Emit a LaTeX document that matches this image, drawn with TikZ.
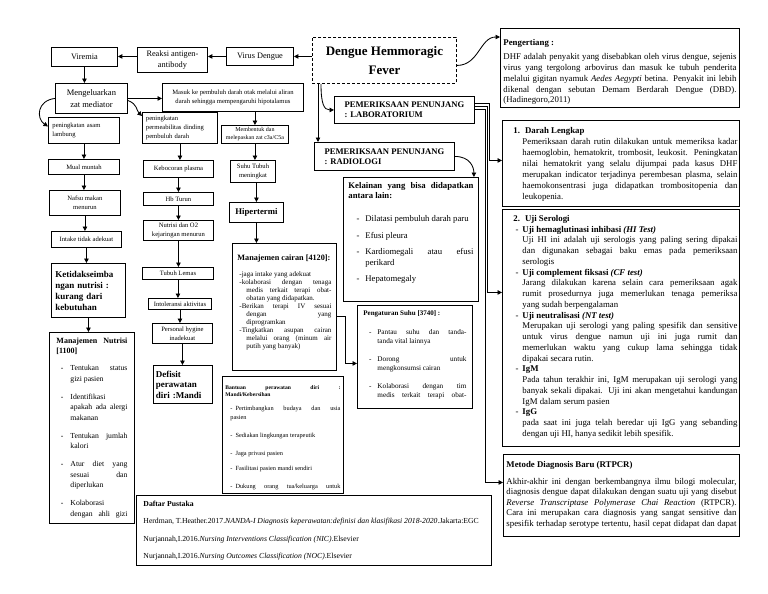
\documentclass[tikz,border=0pt]{standalone}
\usepackage{fontspec}
\setmainfont{Liberation Serif}
\usetikzlibrary{arrows.meta,calc}
\newcommand{\fs}[2]{\fontsize{#1}{#2}\selectfont}
\newcommand{\mypb}[3]{\parbox[t][#2][t]{#1}{#3}}
\newcommand{\itd}[1]{\leavevmode\llap{-\hspace{#1}}}
\newcommand{\bdash}{\leavevmode-\hspace{3pt}}
\hyphenpenalty=10000
\tolerance=9999
\hbadness=10000
\begin{document}
\begin{tikzpicture}[x=1pt,y=-1pt,
  bx/.style={draw, line width=0.9pt, anchor=north west, inner sep=1pt, align=center},
  smalltxt/.style={font=\fs{6.6}{8.8}},
  arr/.style={line width=0.85pt, -{Triangle[length=4.5pt,width=4.5pt]}}]
\useasboundingbox (0,0) rectangle (768,594);

% ---------- top row ----------
\node[bx, dash pattern=on 3pt off 2pt, minimum width=144pt, minimum height=46pt, font=\fs{13}{19.5}\bfseries] (dhf) at (312,37) {Dengue Hemmoragic\\Fever};
\node[bx, minimum width=67pt, minimum height=18pt, font=\fs{8.3}{11}] (virus) at (226,47) {Virus Dengue};
\node[bx, minimum width=70pt, minimum height=25pt, font=\fs{8.3}{11}] (reaksi) at (137,47) {Reaksi antigen-\\antibody};
\node[bx, minimum width=66pt, minimum height=19pt, font=\fs{8.3}{11}] (viremia) at (51,47) {Viremia};
\node[bx, minimum width=72pt, minimum height=30pt, font=\fs{8.5}{12}] (mediator) at (55,83) {Mengeluarkan\\zat mediator};
\node[bx, smalltxt, minimum width=141pt, minimum height=28pt] (masuk) at (162,83) {Masuk ke pembuluh darah otak melalui aliran\\darah sehingga mempengaruhi hipotalamus};

% ---------- left column ----------
\node[bx, smalltxt, align=left, minimum width=71pt, minimum height=26pt, text width=63pt] (asam) at (48,117) {peningkatan asam\\lambung};
\node[bx, smalltxt, minimum width=71pt, minimum height=15pt] (mual) at (48,159) {Mual muntah};
\node[bx, smalltxt, minimum width=71pt, minimum height=25pt] (nafsu) at (49,190) {Nafsu makan\\menurun};
\node[bx, smalltxt, minimum width=70pt, minimum height=16pt] (intake) at (51,231) {Intake tidak adekuat};
\node[bx, align=left, minimum width=74pt, minimum height=54pt, font=\fs{9}{11}\bfseries, text width=66pt] (ketidak) at (51,263) {Ketidakseimba\\ngan nutrisi :\\kurang dari\\kebutuhan};
\node[bx, inner xsep=7pt, inner ysep=2pt] (nutrisi) at (49,332) {\mypb{71pt}{187pt}{\fs{7.7}{10.5}%
\rule{0pt}{9pt}\textbf{\fs{8}{10.5}Manajemen Nutrisi [1100]}\par
\vspace{6.5pt}
{\leftskip=14pt
\itd{7pt}Tentukan status gizi pasien\par\vspace{7.5pt}
\itd{7pt}Identifikasi apakah ada alergi makanan\par\vspace{7.5pt}
\itd{7pt}Tentukan jumlah kalori\par\vspace{7.5pt}
\itd{7pt}Atur diet yang sesuai dan diperlukan\par\vspace{7.5pt}
{\parfillskip=0pt \itd{7pt}Kolaborasi dengan ahli gizi\par}}}};

% ---------- middle column ----------
\node[bx, smalltxt, align=left, minimum width=75pt, minimum height=31pt, text width=68pt] (permea) at (142,112) {peningkatan\\permeabilitas dinding\\pembuluh darah};
\node[bx, smalltxt, minimum width=70pt, minimum height=17pt] (bocor) at (143,160) {Kebocoran plasma};
\node[bx, smalltxt, minimum width=70pt, minimum height=13pt] (hb) at (143,192) {Hb Turun};
\node[bx, smalltxt, minimum width=70pt, minimum height=20pt] (o2) at (143,220) {Nutrisi dan O2\\kejaringan menurun};
\node[bx, smalltxt, minimum width=71pt, minimum height=12pt] (lemas) at (142,267) {Tubuh Lemas};
\node[bx, smalltxt, minimum width=63pt, minimum height=11pt] (intol) at (148,298) {Intoleransi aktivitas};
\node[bx, smalltxt, minimum width=60pt, minimum height=20pt] (hygine) at (152,323) {Personal hygine\\inadekuat};
\node[bx, align=left, minimum width=59pt, minimum height=38pt, font=\fs{9}{10.5}\bfseries, text width=54pt] (defisit) at (153,365) {Defisit\\perawatan\\diri :Mandi};

% ---------- hipertermi column ----------
\node[bx, font=\fs{6}{8}, minimum width=67pt, minimum height=18pt] (membentuk) at (221,125) {Membentuk dan\\melepaskan zat c3a/C5a};
\node[bx, smalltxt, minimum width=45pt, minimum height=22pt] (suhu) at (230,160) {Suhu Tubuh\\meningkat};
\node[bx, font=\fs{8.7}{11}\bfseries, minimum width=54pt, minimum height=20pt] (hiper) at (229,202) {Hipertermi};
\node[bx, inner xsep=5pt, inner ysep=3pt] (cairan) at (232,243) {\mypb{94pt}{121pt}{\fs{7}{8}%
\rule{0pt}{14pt}\textbf{\fs{8.2}{8}Manajemen cairan [4120]:}\par
\vspace{8pt}
{\leftskip=9pt
\leavevmode\hspace*{-7pt}-jaga intake yang adekuat\par
\leavevmode\hspace*{-7pt}-kolaborasi dengan tenaga\linebreak medis terkait terapi obat-\linebreak obatan yang didapatkan.\par
\leavevmode\hspace*{-7pt}-Berikan terapi IV sesuai\linebreak dengan yang\linebreak diprogramkan\par
\leavevmode\hspace*{-7pt}-Tingkatkan asupan cairan\linebreak melalui orang (minum air\linebreak putih yang banyak)\par}}};
\node[bx, inner xsep=3pt, inner ysep=2pt] (bantuan) at (222,376) {\mypb{115pt}{113pt}{\fs{6.3}{9}%
{\fs{5.6}{7.5}\bfseries \rule{0pt}{11pt}Bantuan perawatan diri :\linebreak Mandi/Kebersihan\par}
\vspace{4.5pt}
{\leftskip=5pt
\bdash Pertimbangkan budaya dan usia\linebreak pasien\par\vspace{9pt}
\bdash Sediakan lingkungan terapeutik\par\vspace{9pt}
\bdash Jaga privasi pasien\par\vspace{6pt}
\bdash Fasilitasi pasien mandi sendiri\par\vspace{9pt}
{\parfillskip=0pt \bdash Dukung orang tua/keluarga untuk\par}}}};

% ---------- centre ----------
\node[bx, align=left, minimum width=140pt, minimum height=27pt, font=\fs{8.6}{10}\bfseries] (lab) at (334,96) {PEMERIKSAAN PENUNJANG\\: LABORATORIUM};
\node[bx, align=left, minimum width=140pt, minimum height=28pt, font=\fs{8.6}{10}\bfseries] (radio) at (314,142) {PEMERIKSAAN PENUNJANG\\: RADIOLOGI};
\node[bx, inner xsep=5pt, inner ysep=2pt] (kelainan) at (343,177) {\mypb{125pt}{120pt}{\fs{8.7}{10.5}%
{\bfseries\rule{0pt}{9pt}Kelainan yang bisa didapatkan antara lain:\par}
\vspace{12.5pt}
{\leftskip=17pt
\itd{6pt}Dilatasi pembuluh darah paru\par\vspace{6pt}
\itd{6pt}Efusi pleura\par\vspace{6pt}
\itd{6pt}Kardiomegali atau efusi\linebreak perikard\par\vspace{6pt}
\itd{6pt}Hepatomegaly\par}}};
\node[bx, inner xsep=6pt, inner ysep=2pt] (pengatur) at (357,305) {\mypb{103pt}{99pt}{\fs{7.2}{9}%
\rule{0pt}{8.5pt}\textbf{\fs{7}{9}Pengaturan Suhu [3740] :}\par
\vspace{9.5pt}
{\leftskip=14pt
\itd{6pt}Pantau suhu dan tanda-\linebreak tanda vital lainnya\par\vspace{9pt}
\itd{6pt}Dorong untuk\linebreak mengkonsumsi cairan\par\vspace{9pt}
{\parfillskip=0pt\itd{6pt}Kolaborasi dengan tim\linebreak medis terkait terapi obat-\par}}}};
\node[bx, inner xsep=7pt, inner ysep=2pt] (pustaka) at (136,495) {\mypb{341pt}{66pt}{\fs{7.7}{17.5}%
\rule{0pt}{9pt}\textbf{Daftar Pustaka}\par
Herdman, T.Heather.2017.\textit{NANDA-I Diagnosis keperawatan:definisi dan klasifikasi 2018-2020}.Jakarta:EGC\par
Nurjannah,I.2016.\textit{Nursing Interventions Classification (NIC)}.Elsevier\par
Nurjannah,I.2016.\textit{Nursing Outcomes Classification (NOC)}.Elsevier\par}};

% ---------- right column ----------
\node[bx, inner xsep=3pt, inner ysep=2pt] (pengert) at (500,28) {\mypb{233pt}{75pt}{\fs{8.8}{10.8}%
\rule{0pt}{15.5pt}\textbf{Pengertiang :}\par\vspace{3pt}
DHF adalah penyakit yang disebabkan oleh virus dengue, sejenis\linebreak virus yang tergolong arbovirus dan masuk ke tubuh penderita\linebreak melalui gigitan nyamuk \textit{Aedes Aegypti} betina. Penyakit ini lebih\linebreak dikenal dengan sebutan Demam Berdarah Dengue (DBD).\linebreak (Hadinegoro,2011)\par}};
\node[bx, inner xsep=2pt, inner ysep=2pt] (darah) at (502,120) {\mypb{233pt}{82pt}{\fs{8.8}{11}%
\rule{0pt}{11pt}\hspace*{9pt}\textbf{1.\hspace{5pt}Darah Lengkap}\par
{\leftskip=18pt Pemeriksaan darah rutin dilakukan untuk memeriksa kadar\linebreak haemoglobin, hematokrit, trombosit, leukosit. Peningkatan\linebreak nilai hematokrit yang selalu dijumpai pada kasus DHF\linebreak merupakan indicator terjadinya perembesan plasma, selain\linebreak haemokonsentrasi juga didapatkan trombositopenia dan\linebreak leukopenia.\par}}};
\node[bx, inner xsep=2pt, inner ysep=2pt] (sero) at (502,209) {\mypb{233pt}{233pt}{\fs{8.8}{10.75}%
\rule{0pt}{10pt}\hspace*{9pt}\textbf{2.\hspace{5pt}Uji Serologi}\par
{\leftskip=18pt
\itd{4pt}\textbf{Uji hemaglutinasi inhibasi \textit{(HI Test)}}\par
Uji HI ini adalah uji serologis yang paling sering dipakai\linebreak dan digunakan sebagai baku emas pada pemeriksaan\linebreak serologis\par
\itd{4pt}\textbf{Uji complement fiksasi \textit{(CF test)}}\par
Jarang dilakukan karena selain cara pemeriksaan agak\linebreak rumit prosedurnya juga memerlukan tenaga pemeriksa\linebreak yang sudah berpengalaman\par
\itd{4pt}\textbf{Uji neutralisasi \textit{(NT test)}}\par
Merupakan uji serologi yang paling spesifik dan sensitive\linebreak untuk virus dengue namun uji ini juga rumit dan\linebreak memerlukan waktu yang cukup lama sehingga tidak\linebreak dipakai secara rutin.\par
\itd{4pt}\textbf{IgM}\par
Pada tahun terakhir ini, IgM merupakan uji serologi yang\linebreak banyak sekali dipakai. Uji ini akan mengetahui kandungan\linebreak IgM dalam serum pasien\par
\itd{4pt}\textbf{IgG}\par
pada saat ini juga telah beredar uji IgG yang sebanding\linebreak dengan uji HI, hanya sedikit lebih spesifik.\par}}};
\node[bx, inner xsep=3pt, inner ysep=2pt] (rtpcr) at (503,454) {\mypb{230pt}{78pt}{\fs{8.8}{10.5}%
\rule{0pt}{11pt}\textbf{Metode Diagnosis Baru (RTPCR)}\par\vspace{6.5pt}
{\parfillskip=0pt Akhir-akhir ini dengan berkembangnya ilmu bilogi molecular,\linebreak diagnosis dengue dapat dilakukan dengan suatu uji yang disebut\linebreak \textit{Reverse Transcriptase Polymerase Chai Reaction} (RTPCR).\linebreak Cara ini merupakan cara diagnosis yang sangat sensitive dan\linebreak spesifik terhadap serotype tertentu, hasil cepat didapat dan dapat\par}}};

% ---------- connectors ----------
\draw[arr] (dhf.west |- virus.east) -- (virus.east);
\draw[arr] (virus.west) -- (virus.west -| reaksi.east);
\draw[arr] (virus.west -| reaksi.west) -- (virus.west -| viremia.east);
\draw[arr] (viremia.south) -- (viremia.south |- mediator.north);
\draw[arr] (mediator.east) -- (mediator.east -| masuk.west);
\draw[arr] (mediator.west) .. controls +(-18,2) and +(-12,-8) .. ([yshift=4pt]asam.west);
\draw[arr] ([yshift=-2pt]mediator.east) .. controls +(10,4) and +(-6,-6) .. ([yshift=-4pt]permea.north west);

\draw[arr] (asam.south) -- (asam.south |- mual.north);
\draw[arr] (mual.south) -- (mual.south |- nafsu.north);
\draw[arr] (nafsu.south) -- (nafsu.south |- intake.north);
\draw[arr] (intake.south) -- (intake.south |- ketidak.north);
\draw[arr] (ketidak.south) -- (ketidak.south |- nutrisi.north);

\draw[arr] (permea.south) -- (permea.south |- bocor.north);
\draw[arr] (bocor.south) -- (bocor.south |- hb.north);
\draw[arr] (hb.south) -- (hb.south |- o2.north);
\draw[arr] (o2.south) -- (o2.south |- lemas.north);
\draw[arr] (lemas.south) -- (lemas.south |- intol.north);
\draw[arr] (intol.south) -- (intol.south |- hygine.north);
\draw[arr] (hygine.south) -- (hygine.south |- defisit.north);

\draw[arr] (membentuk.north |- masuk.south) -- (membentuk.north);
\draw[arr] (membentuk.south) -- (membentuk.south |- suhu.north);
\draw[arr] (hiper.north |- suhu.south) -- (hiper.north);
\draw[arr] (hiper.south) -- (hiper.south |- cairan.north);
\draw[arr] ([yshift=-9.5pt]cairan.east) -- ++(9,0) |- ([yshift=-6.5pt]pengatur.west);

\draw[arr] ([xshift=9pt]dhf.south west) .. controls +(0,20) and +(-10,0) .. (lab.west);
\draw[arr] ([xshift=6pt]dhf.south west) -- ([xshift=4pt]radio.north west);
\draw[arr] ([yshift=-5pt]dhf.east) .. controls +(22,0) and +(-20,0) .. ([yshift=-9pt]pengert.north west);
\draw[arr] (radio.east) .. controls +(15,0) and +(0,-10) .. ([xshift=-5pt]kelainan.north east);

\draw[arr] ([yshift=6.5pt]lab.east) -- ++(15,0) |- ([yshift=3pt]darah.west);
\draw[arr] ([yshift=3.5pt]lab.east) -- ++(13,0) |- ([yshift=35.5pt]sero.west);
\draw[arr] ([yshift=0.5pt]lab.east) -- ++(11,0) |- ([yshift=13pt]rtpcr.west);
\end{tikzpicture}
\end{document}
